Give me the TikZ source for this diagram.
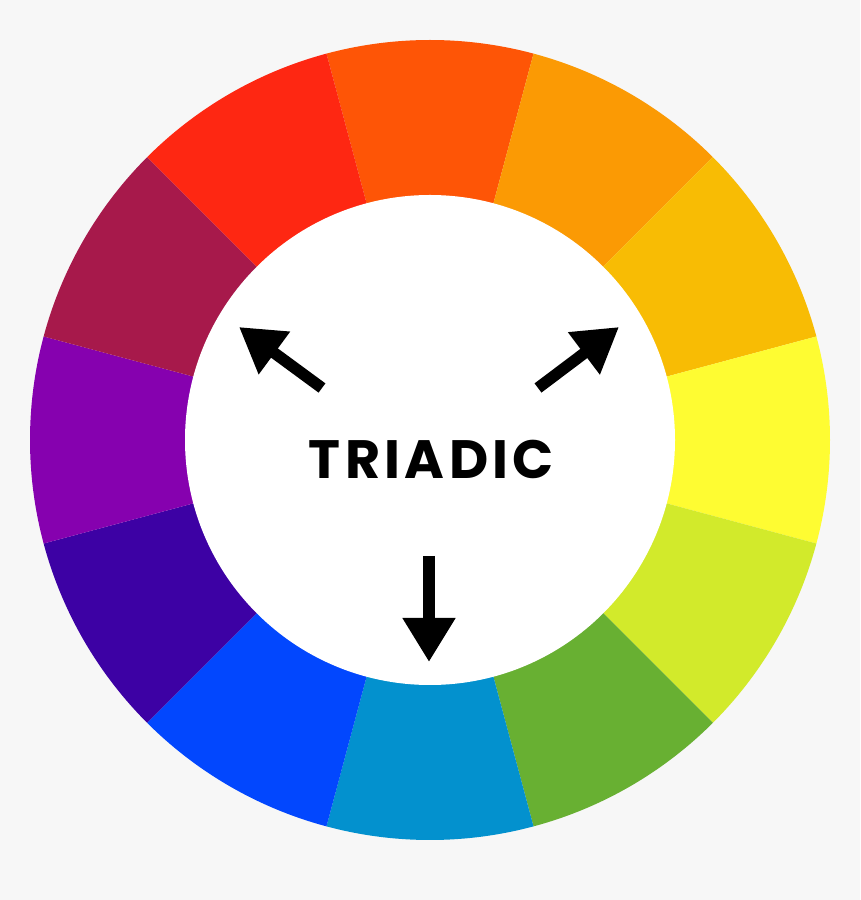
\documentclass[tikz,border=0pt]{standalone}
\usepackage{fontspec}
\newfontfamily\labelfont[LetterSpace=8]{Poppins}
\usetikzlibrary{arrows.meta}
\definecolor{backgray}{RGB}{247, 247, 247}
\definecolor{redorange}{RGB}{254, 85, 6}
\definecolor{orange}{RGB}{251, 154, 4}
\definecolor{amber}{RGB}{248, 188, 4}
\definecolor{yellow}{RGB}{254, 252, 50}
\definecolor{lime}{RGB}{210, 234, 43}
\definecolor{green}{RGB}{104, 176, 50}
\definecolor{azure}{RGB}{3, 145, 206}
\definecolor{blue}{RGB}{2, 71, 254}
\definecolor{indigo}{RGB}{61, 1, 164}
\definecolor{violet}{RGB}{134, 1, 175}
\definecolor{magenta}{RGB}{167, 25, 75}
\definecolor{red}{RGB}{254, 39, 18}

\begin{document}
\begin{tikzpicture}[
    x=1pt, y=1pt,
    >={Triangle[width=50pt, length=44pt]},
    segment/.style={draw=none},
    pointer/.style={->, line width=11.5pt, black},
    title/.style={text=black, font=\labelfont\bfseries\fontsize{54}{54}\selectfont, inner sep=0pt, anchor=base}
]
\fill[backgray] (0,0) rectangle (860,900);
\useasboundingbox (0,0) rectangle (860,900);

\coordinate (centre) at (430,460);

% colour ring
\fill[segment, redorange] (centre) ++(75:400) arc (75:105:400) -- (centre) -- cycle;
\fill[segment, orange] (centre) ++(45:400) arc (45:75:400) -- (centre) -- cycle;
\fill[segment, amber] (centre) ++(15:400) arc (15:45:400) -- (centre) -- cycle;
\fill[segment, yellow] (centre) ++(-15:400) arc (-15:15:400) -- (centre) -- cycle;
\fill[segment, lime] (centre) ++(-45:400) arc (-45:-15:400) -- (centre) -- cycle;
\fill[segment, green] (centre) ++(-75:400) arc (-75:-45:400) -- (centre) -- cycle;
\fill[segment, azure] (centre) ++(-105:400) arc (-105:-75:400) -- (centre) -- cycle;
\fill[segment, blue] (centre) ++(-135:400) arc (-135:-105:400) -- (centre) -- cycle;
\fill[segment, indigo] (centre) ++(-165:400) arc (-165:-135:400) -- (centre) -- cycle;
\fill[segment, violet] (centre) ++(165:400) arc (165:195:400) -- (centre) -- cycle;
\fill[segment, magenta] (centre) ++(135:400) arc (135:165:400) -- (centre) -- cycle;
\fill[segment, red] (centre) ++(105:400) arc (105:135:400) -- (centre) -- cycle;
\fill[white] (centre) circle (245);

\node[title] (label) at (431.5,421) {TRIADIC};

\coordinate (leftstart) at (322,512);
\coordinate (lefttip) at (239,573);
\coordinate (rightstart) at (538,512);
\coordinate (righttip) at (619,573);
\coordinate (downstart) at (429,344);
\coordinate (downtip) at (429,238);

\draw[pointer] (leftstart) -- (lefttip);
\draw[pointer] (rightstart) -- (righttip);
\draw[pointer] (downstart) -- (downtip);
\end{tikzpicture}
\end{document}
